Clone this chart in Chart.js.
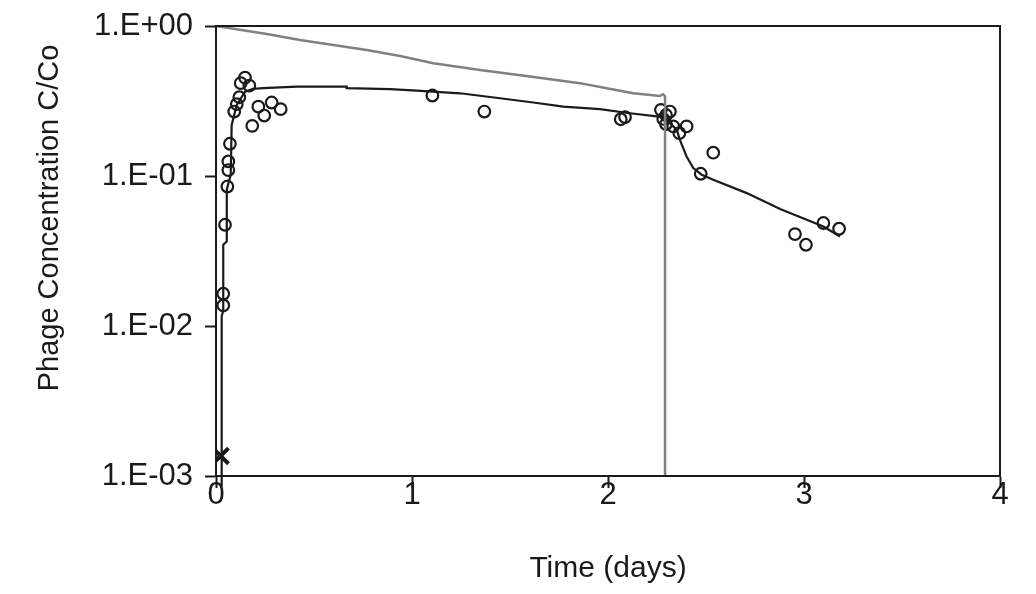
<!DOCTYPE html>
<html>
<head>
<meta charset="utf-8">
<script src="https://cdn.jsdelivr.net/npm/chart.js@4"></script>
<style>
  html, body { margin: 0; padding: 0; background: #fff; }
  #wrap { width: 1036px; height: 594px; }
</style>
</head>
<body>
<div id="wrap"><canvas id="phage-chart"></canvas></div>
<script>
// observed phage concentrations (circles)
const obsDays = [0.037, 0.037, 0.046, 0.058, 0.063, 0.063, 0.071, 0.093, 0.106, 0.119,
  0.126, 0.148, 0.170, 0.185, 0.216, 0.246, 0.284, 0.330, 1.104, 1.369, 2.065, 2.087,
  2.270, 2.316, 2.296, 2.282, 2.296, 2.333, 2.401, 2.364, 2.537, 2.473, 2.954, 3.010,
  3.099, 3.179];
const obsConc = [0.0137, 0.0164, 0.0473, 0.0851, 0.1095, 0.125, 0.164, 0.269, 0.301, 0.335,
  0.416, 0.453, 0.400, 0.216, 0.290, 0.253, 0.309, 0.279, 0.344, 0.269, 0.239, 0.247,
  0.276, 0.269, 0.255, 0.240, 0.222, 0.214, 0.214, 0.193, 0.143, 0.1035, 0.041, 0.0348,
  0.0486, 0.0445];

// model fit (black line)
const modelDays = [0.029, 0.029, 0.037, 0.037, 0.055, 0.055, 0.075, 0.080, 0.106, 0.148,
  0.189, 0.240, 0.412, 0.667, 0.667, 0.888, 1.024, 1.245, 1.449, 1.619, 1.772, 1.959,
  2.112, 2.282, 2.316, 2.351, 2.367, 2.401, 2.435, 2.478, 2.537, 2.708, 2.878, 3.099, 3.184];
const modelConc = [0.00085, 0.0116, 0.0127, 0.0348, 0.0366, 0.081, 0.102, 0.219, 0.298, 0.365,
  0.381, 0.385, 0.394, 0.394, 0.385, 0.379, 0.371, 0.356, 0.330, 0.309, 0.290, 0.279,
  0.262, 0.247, 0.225, 0.203, 0.174, 0.135, 0.113, 0.102, 0.0944, 0.0769, 0.0602, 0.0461, 0.0395];

// injected concentration (grey line)
const inputDays = [0, 0.259, 0.429, 0.598, 0.769, 0.939, 1.109, 1.347, 1.602, 1.857, 1.993,
  2.129, 2.265, 2.281, 2.291, 2.291];
const inputConc = [1.0, 0.885, 0.807, 0.748, 0.692, 0.631, 0.565, 0.509, 0.460, 0.416, 0.385,
  0.356, 0.342, 0.351, 0.34, 0.001];

// detection limit marker
const dlDays = [0.024];
const dlConc = [0.00136];

const yTickValues = [0.001, 0.01, 0.1, 1];
const yTickLabels = ["1.E-03", "1.E-02", "1.E-01", "1.E+00"];
const xTickValues = [0, 1, 2, 3, 4];

const toXY = (xs, ys) => xs.map((x, i) => ({ x: x, y: ys[i] }));

// box round the plot area and the rotated y title
const framePlugin = {
  id: "frame",
  afterDatasetsDraw(chart) {
    const { ctx, chartArea } = chart;
    ctx.save();
    ctx.strokeStyle = "#1a1a1a";
    ctx.lineWidth = 2;
    ctx.strokeRect(chartArea.left, chartArea.top, chartArea.right - chartArea.left, chartArea.bottom - chartArea.top);
    ctx.translate(50, 218);
    ctx.rotate(-Math.PI / 2);
    ctx.fillStyle = "#1a1a1a";
    ctx.font = "29px 'Liberation Sans', Arial, sans-serif";
    ctx.textAlign = "center";
    ctx.textBaseline = "middle";
    ctx.fillText("Phage Concentration C/Co", 0, 0);
    ctx.restore();
  },
};

new Chart(document.getElementById("phage-chart"), {
  type: "scatter",
  data: {
    datasets: [
      {
        label: "Input",
        data: toXY(inputDays, inputConc),
        showLine: true,
        borderColor: "#808080",
        borderWidth: 2.5,
        pointRadius: 0,
        tension: 0,
      },
      {
        label: "Model",
        data: toXY(modelDays, modelConc),
        showLine: true,
        borderColor: "#1a1a1a",
        borderWidth: 2.2,
        pointRadius: 0,
        tension: 0,
        clip: false,
      },
      {
        label: "Observed",
        data: toXY(obsDays, obsConc),
        pointStyle: "circle",
        pointRadius: 5.8,
        borderColor: "#1a1a1a",
        borderWidth: 2.2,
        backgroundColor: "rgba(255,255,255,0)",
      },
      {
        label: "Detection limit",
        data: toXY(dlDays, dlConc),
        pointStyle: "crossRot",
        pointRadius: 11,
        borderColor: "#1a1a1a",
        borderWidth: 4,
      },
    ],
  },
  options: {
    responsive: true,
    maintainAspectRatio: false,
    animation: false,
    layout: { padding: { left: 0, top: 26, right: 36, bottom: 0 } },
    plugins: {
      legend: { display: false },
      tooltip: { enabled: false },
    },
    scales: {
      x: {
        type: "linear",
        min: 0,
        max: 4,
        afterBuildTicks: (axis) => { axis.ticks = xTickValues.map((v) => ({ value: v })); },
        afterFit: (axis) => { axis.height = 118; },
        grid: { drawOnChartArea: false, tickLength: 12, color: "#1a1a1a", tickWidth: 2 },
        border: { color: "#1a1a1a", width: 2 },
        ticks: {
          color: "#1a1a1a",
          padding: -8,
          font: { family: "'Liberation Sans', Arial, sans-serif", size: 31, lineHeight: 1 },
        },
        title: {
          display: true,
          text: "Time (days)",
          color: "#1a1a1a",
          font: { family: "'Liberation Sans', Arial, sans-serif", size: 30 },
          padding: { top: 0, bottom: 7 },
        },
      },
      y: {
        type: "logarithmic",
        min: 0.001,
        max: 1,
        afterBuildTicks: (axis) => { axis.ticks = yTickValues.map((v) => ({ value: v })); },
        afterFit: (axis) => { axis.width = 216; },
        grid: { drawOnChartArea: false, tickLength: 11, color: "#1a1a1a", tickWidth: 2 },
        border: { color: "#1a1a1a", width: 2 },
        ticks: {
          color: "#1a1a1a",
          padding: 12,
          font: { family: "'Liberation Sans', Arial, sans-serif", size: 31, lineHeight: 0.6 },
          callback: (value) => yTickLabels[yTickValues.indexOf(value)],
        },
      },
    },
  },
  plugins: [framePlugin],
});
</script>
</body>
</html>
